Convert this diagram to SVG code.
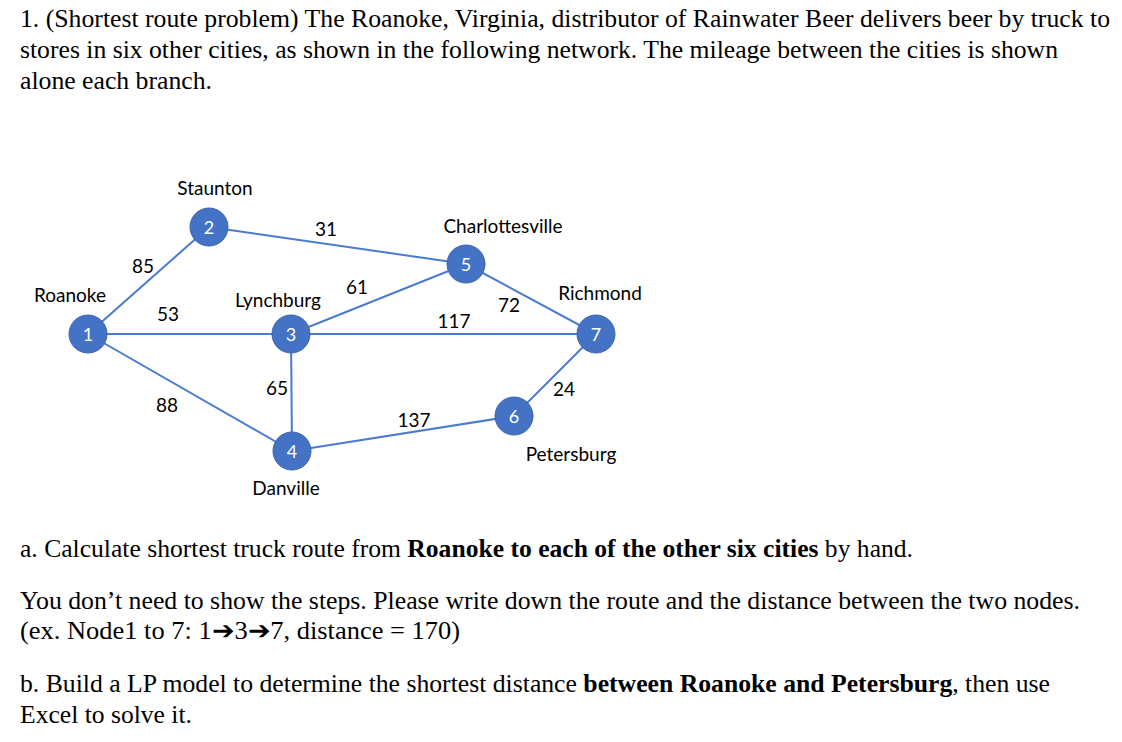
<svg xmlns="http://www.w3.org/2000/svg" width="1122" height="742" viewBox="0 0 1122 742">
<style>
.para{font-family:"Liberation Serif","Times New Roman",serif;font-size:24.5px;fill:#000}
.b{font-weight:bold}
.city{font-family:Lato,"Open Sans",sans-serif;font-size:19px;fill:#000;text-anchor:middle}
.num{font-family:Lato,"Open Sans",sans-serif;font-size:19px;fill:#000;text-anchor:middle}
.node circle{fill:#4472C4;stroke:#3A65B0;stroke-width:1}
.node text.id{font-family:Lato,"Open Sans",sans-serif;font-size:18px;fill:#fff;text-anchor:middle}
.edge{stroke:#4A7BD0;stroke-width:2;fill:none}
</style>
<rect width="1122" height="742" fill="#fff"/>
<g id="problem-text">
<text class="para" x="20" y="27" textLength="1090" lengthAdjust="spacingAndGlyphs">1. (Shortest route problem) The Roanoke, Virginia, distributor of Rainwater Beer delivers beer by truck to</text>
<text class="para" x="20" y="58" textLength="1038" lengthAdjust="spacingAndGlyphs">stores in six other cities, as shown in the following network. The mileage between the cities is shown</text>
<text class="para" x="20" y="89" textLength="192" lengthAdjust="spacingAndGlyphs">alone each branch.</text>
</g>
<g id="connectors">
<line class="edge" x1="88" y1="334" x2="209" y2="227"/>
<line class="edge" x1="209" y1="227" x2="466" y2="264"/>
<line class="edge" x1="88" y1="334" x2="291" y2="334"/>
<line class="edge" x1="88" y1="334" x2="292" y2="451"/>
<line class="edge" x1="291" y1="334" x2="466" y2="264"/>
<line class="edge" x1="291" y1="334" x2="596" y2="334"/>
<line class="edge" x1="291" y1="334" x2="292" y2="451"/>
<line class="edge" x1="466" y1="264" x2="596" y2="334"/>
<line class="edge" x1="292" y1="451" x2="514" y2="416"/>
<line class="edge" x1="514" y1="416" x2="596" y2="334"/>
</g>
<g id="edge-labels">
<text class="num" x="143" y="273">85</text>
<text class="num" x="326" y="236">31</text>
<text class="num" x="357" y="294">61</text>
<text class="num" x="168" y="321">53</text>
<text class="num" x="454" y="328">117</text>
<text class="num" x="509" y="312">72</text>
<text class="num" x="277" y="395">65</text>
<text class="num" x="167" y="412">88</text>
<text class="num" x="414" y="427">137</text>
<text class="num" x="564" y="396">24</text>
</g>
<g id="node1" class="node"><circle cx="88" cy="334" r="19"/><text class="id" x="88" y="340.5">1</text><text class="city" x="70" y="302">Roanoke</text></g>
<g id="node2" class="node"><circle cx="209" cy="227" r="19"/><text class="id" x="209" y="233.5">2</text><text class="city" x="215" y="195">Staunton</text></g>
<g id="node3" class="node"><circle cx="291" cy="334" r="19"/><text class="id" x="291" y="340.5">3</text><text class="city" x="278" y="307">Lynchburg</text></g>
<g id="node4" class="node"><circle cx="292" cy="451" r="19"/><text class="id" x="292" y="457.5">4</text><text class="city" x="286" y="495">Danville</text></g>
<g id="node5" class="node"><circle cx="466" cy="264" r="19"/><text class="id" x="466" y="270.5">5</text><text class="city" x="503" y="233">Charlottesville</text></g>
<g id="node6" class="node"><circle cx="514" cy="416" r="19"/><text class="id" x="514" y="422.5">6</text><text class="city" x="571" y="461">Petersburg</text></g>
<g id="node7" class="node"><circle cx="596" cy="334" r="19"/><text class="id" x="596" y="340.5">7</text><text class="city" x="600" y="300">Richmond</text></g>
<g id="questions">
<text class="para" x="20" y="557" textLength="893" lengthAdjust="spacingAndGlyphs">a. Calculate shortest truck route from <tspan class="b">Roanoke to each of the other six cities</tspan> by hand.</text>
<text class="para" x="20" y="609" textLength="1060" lengthAdjust="spacingAndGlyphs">You don’t need to show the steps. Please write down the route and the distance between the two nodes.</text>
<text class="para" x="20" y="639" textLength="440" lengthAdjust="spacingAndGlyphs">(ex. Node1 to 7: 1➔3➔7, distance = 170)</text>
<text class="para" x="20" y="692" textLength="1030" lengthAdjust="spacingAndGlyphs">b. Build a LP model to determine the shortest distance <tspan class="b">between Roanoke and Petersburg</tspan>, then use</text>
<text class="para" x="20" y="723" textLength="172" lengthAdjust="spacingAndGlyphs">Excel to solve it.</text>
</g>
</svg>
